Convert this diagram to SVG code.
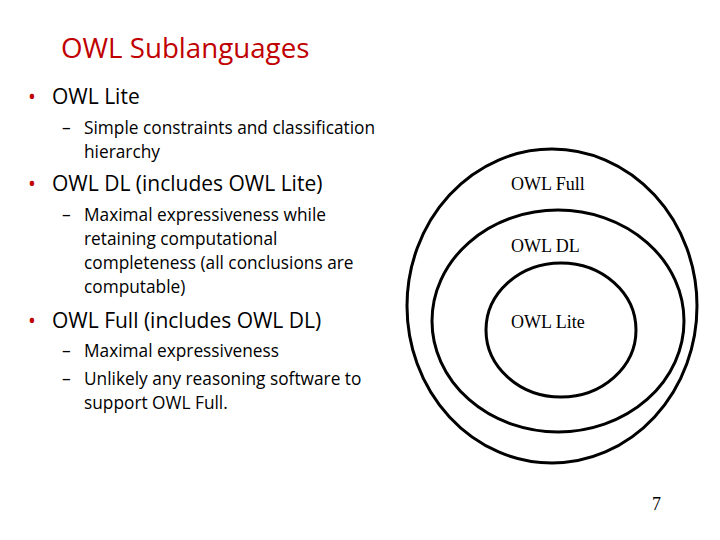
<svg xmlns="http://www.w3.org/2000/svg" width="720" height="540" viewBox="0 0 720 540">
<style>
.t{font-family:"Open Sans","Liberation Sans",sans-serif;fill:#000}
.h{font-size:21px}
.s{font-size:17.3px}
.r{fill:#c00000}
.c{fill:none;stroke:#000;stroke-width:3}
.l{font-family:"Liberation Serif",serif;font-size:18px}
</style>
<rect width="720" height="540" fill="#fff"/>
<text class="t r" x="61" y="58" font-size="27.7">OWL Sublanguages</text>
<g id="text">
<text class="t h r" x="28" y="104">•</text><text class="t h" x="52" y="104">OWL Lite</text>
<text class="t s" x="62" y="134">–</text><text class="t s" x="84" y="134">Simple constraints and classification</text>
<text class="t s" x="84" y="158">hierarchy</text>
<text class="t h r" x="28" y="191">•</text><text class="t h" x="52" y="191">OWL DL (includes OWL Lite)</text>
<text class="t s" x="62" y="221">–</text><text class="t s" x="84" y="221">Maximal expressiveness while</text>
<text class="t s" x="84" y="245">retaining computational</text>
<text class="t s" x="84" y="269">completeness (all conclusions are</text>
<text class="t s" x="84" y="293">computable)</text>
<text class="t h r" x="28" y="328">•</text><text class="t h" x="52" y="328">OWL Full (includes OWL DL)</text>
<text class="t s" x="62" y="357">–</text><text class="t s" x="84" y="357">Maximal expressiveness</text>
<text class="t s" x="62" y="385">–</text><text class="t s" x="84" y="385">Unlikely any reasoning software to</text>
<text class="t s" x="84" y="409">support OWL Full.</text>
</g>
<g id="full"><ellipse class="c" cx="552" cy="306" rx="145" ry="157"/><text class="l" x="511" y="190">OWL Full</text></g>
<g id="dl"><ellipse class="c" cx="558" cy="321" rx="126" ry="111"/><text class="l" x="511" y="252">OWL DL</text></g>
<g id="lite"><ellipse class="c" cx="561" cy="330" rx="75" ry="67"/><text class="l" x="511" y="328">OWL Lite</text></g>
<g id="connectors"/>
<text class="l" x="652" y="510" font-size="14">7</text>
</svg>
